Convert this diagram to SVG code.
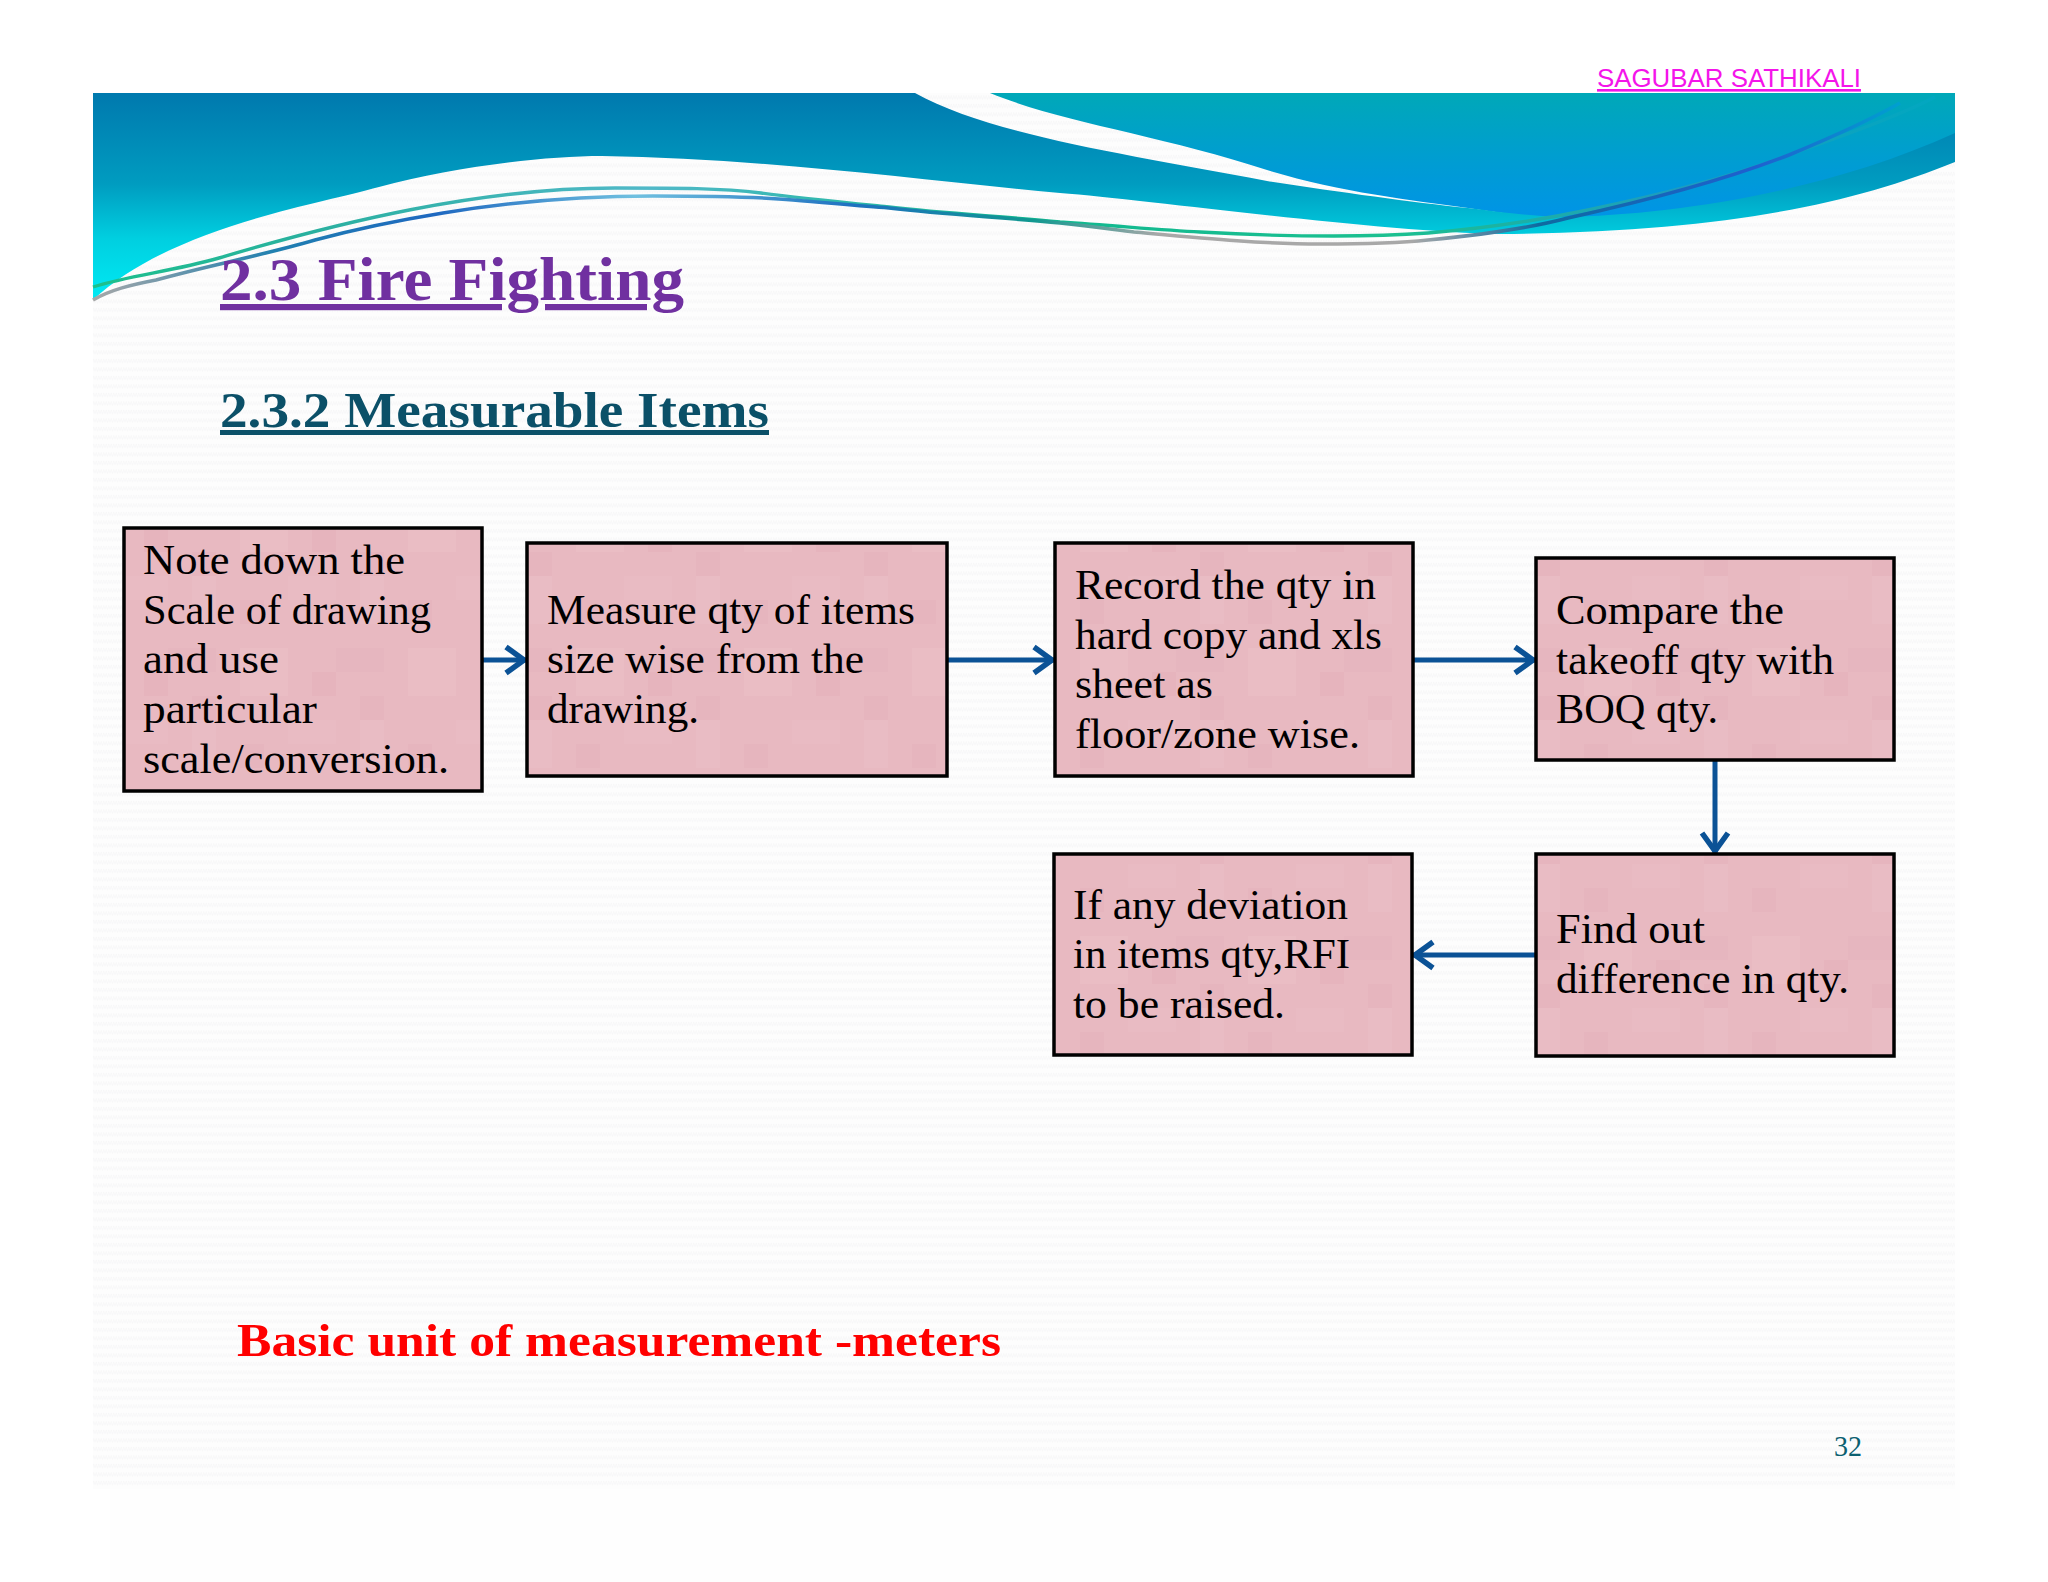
<svg xmlns="http://www.w3.org/2000/svg" width="2048" height="1582" viewBox="0 0 2048 1582">
<style>
.box{fill:url(#mottle);stroke:#000;stroke-width:3.5}
.t{font-family:"Liberation Serif",serif;font-size:42px;fill:#000}
.conn{fill:none;stroke:#0b5296;stroke-width:5;marker-end:url(#head)}
</style>
<defs>
<pattern id="zig" width="5" height="8.5" patternUnits="userSpaceOnUse"><path d="M0,6 L1.25,2 L2.5,6 L3.75,2 L5,6" fill="none" stroke="#f5f5f6" stroke-width="0.7"/></pattern>
<pattern id="mottle" width="168" height="144" patternUnits="userSpaceOnUse">
<rect width="168" height="144" fill="#e8b9c1"/>
<rect x="24" y="0" width="24" height="48" fill="#e9bcc4"/><rect x="72" y="24" width="24" height="24" fill="#e6b5be"/><rect x="120" y="0" width="48" height="24" fill="#e9bbc3"/>
<rect x="0" y="72" width="48" height="24" fill="#e6b6bf"/><rect x="72" y="72" width="48" height="48" fill="#eabdc4"/><rect x="144" y="96" width="24" height="24" fill="#e6b4bd"/><rect x="24" y="120" width="24" height="24" fill="#e6b5be"/>
</pattern>
<linearGradient id="bandA" gradientUnits="userSpaceOnUse" x1="0" y1="93" x2="0" y2="295"><stop offset="0" stop-color="#0079ae"/><stop offset="0.45" stop-color="#009cc0"/><stop offset="0.72" stop-color="#00cfe0"/><stop offset="1" stop-color="#00e8f2"/></linearGradient>
<linearGradient id="bandB" gradientUnits="userSpaceOnUse" x1="0" y1="93" x2="0" y2="216"><stop offset="0" stop-color="#00a8b8"/><stop offset="0.6" stop-color="#009cd4"/><stop offset="1" stop-color="#0094e6"/></linearGradient>
<linearGradient id="sw1" gradientUnits="userSpaceOnUse" x1="93" y1="0" x2="1955" y2="0"><stop offset="0" stop-color="#1cc08c"/><stop offset="0.12" stop-color="#2ab0a0"/><stop offset="0.3" stop-color="#50b8c8"/><stop offset="0.5" stop-color="#10b890"/><stop offset="0.7" stop-color="#1cc090"/><stop offset="0.85" stop-color="#1c9cc0"/><stop offset="1" stop-color="#00a8c0"/></linearGradient>
<linearGradient id="sw2" gradientUnits="userSpaceOnUse" x1="93" y1="0" x2="1900" y2="0"><stop offset="0" stop-color="#a8a8a8"/><stop offset="0.1" stop-color="#2080b0"/><stop offset="0.19" stop-color="#1e68c0"/><stop offset="0.3" stop-color="#70c0e0"/><stop offset="0.42" stop-color="#1e70c0"/><stop offset="0.52" stop-color="#109890"/><stop offset="0.59" stop-color="#a8a8a8"/><stop offset="0.73" stop-color="#a8a8a8"/><stop offset="0.8" stop-color="#0e6aa0"/><stop offset="0.92" stop-color="#1e60d0"/><stop offset="1" stop-color="#00a0d0"/></linearGradient>
<marker id="head" markerUnits="userSpaceOnUse" markerWidth="40" markerHeight="40" refX="30" refY="20" orient="auto" overflow="visible"><path d="M10,7 L28,20 L10,33" fill="none" stroke="#0b5296" stroke-width="5.5"/></marker>
</defs>

<rect width="2048" height="1582" fill="#ffffff"/>
<rect x="110" y="93" width="1850" height="1489" fill="#fefefe"/>
<rect x="93" y="93" width="1862" height="1396" fill="#fdfdfd"/>
<rect x="93" y="93" width="1862" height="1396" fill="url(#zig)"/>

<path fill="url(#bandB)" d="M990,93 C1060,122 1160,135 1267,170 C1340,192 1410,200 1468,208 C1500,213 1530,217 1560,218 L1700,215 L1955,150 L1955,93 Z"/>
<path fill="url(#bandA)" d="M93,93 L915,93 C990,135 1130,155 1267,181 C1340,192 1410,202 1468,208 C1500,212 1530,216 1560,217 C1680,215 1830,190 1955,133 L1955,162 C1850,205 1720,232 1500,234 C1380,232 1150,200 1060,193 C920,180 760,158 602,156 C540,156 450,168 379,187 C310,206 170,228 93,300 Z"/>
<path fill="none" stroke="url(#sw1)" stroke-width="3.4" d="M93,287 C130,275 170,272 219,258 C340,222 480,188 615,188 C680,188 720,188 761,193 C800,198 850,203 889,207 C950,214 1000,216 1060,222 C1120,226 1160,230 1200,232 C1250,235 1290,236 1334,236 C1370,236 1400,235 1428,233 C1490,228 1540,220 1588,210 C1660,195 1740,175 1802,150 C1860,130 1905,113 1935,97"/>
<path fill="none" stroke="url(#sw2)" stroke-width="3.6" d="M93,300 C110,290 130,285 156,280 C210,265 260,256 315,240 C360,228 400,220 443,213 C510,202 580,196 653,196 C700,196 750,196 793,200 C830,203 860,206 889,208 C950,215 1000,217 1060,223 C1090,226 1110,229 1134,232 C1200,238 1260,244 1321,244 C1360,244 1400,243 1428,240 C1480,235 1530,228 1568,218 C1650,200 1730,178 1789,155 C1830,138 1870,120 1900,103"/>

<text x="1597" y="87" font-family="'Liberation Sans',sans-serif" font-size="26" fill="#f414ea" text-decoration="underline" textLength="264" lengthAdjust="spacingAndGlyphs">SAGUBAR SATHIKALI</text>
<text x="220" y="300" font-family="'Liberation Serif',serif" font-weight="bold" font-size="62" fill="#7030a0" text-decoration="underline" textLength="464" lengthAdjust="spacingAndGlyphs">2.3 Fire Fighting</text>
<text x="220" y="427" font-family="'Liberation Serif',serif" font-weight="bold" font-size="50" fill="#0b5068" text-decoration="underline" textLength="549" lengthAdjust="spacingAndGlyphs">2.3.2 Measurable Items</text>

<g id="connectors">
<line class="conn" x1="482" y1="660" x2="526" y2="660"/>
<line class="conn" x1="947" y1="660" x2="1054" y2="660"/>
<line class="conn" x1="1414" y1="660" x2="1535" y2="660"/>
<line class="conn" x1="1720" y1="760" x2="1720" y2="853" transform="translate(-5 0)"/>
<line class="conn" x1="1535" y1="955" x2="1413" y2="955"/>
</g>

<g id="node1"><rect class="box" x="124" y="528" width="358" height="263"/>
<text class="t" x="143" y="574" textLength="262" lengthAdjust="spacingAndGlyphs">Note down the</text>
<text class="t" x="143" y="624" textLength="288" lengthAdjust="spacingAndGlyphs">Scale of drawing</text>
<text class="t" x="143" y="673" textLength="136" lengthAdjust="spacingAndGlyphs">and use</text>
<text class="t" x="143" y="723" textLength="174" lengthAdjust="spacingAndGlyphs">particular</text>
<text class="t" x="143" y="773" textLength="306" lengthAdjust="spacingAndGlyphs">scale/conversion.</text></g>

<g id="node2"><rect class="box" x="527" y="543" width="420" height="233"/>
<text class="t" x="547" y="624" textLength="368" lengthAdjust="spacingAndGlyphs">Measure qty of items</text>
<text class="t" x="547" y="673" textLength="317" lengthAdjust="spacingAndGlyphs">size wise from the</text>
<text class="t" x="547" y="723" textLength="152" lengthAdjust="spacingAndGlyphs">drawing.</text></g>

<g id="node3"><rect class="box" x="1055" y="543" width="358" height="233"/>
<text class="t" x="1075" y="599" textLength="301" lengthAdjust="spacingAndGlyphs">Record the qty in</text>
<text class="t" x="1075" y="649" textLength="307" lengthAdjust="spacingAndGlyphs">hard copy and xls</text>
<text class="t" x="1075" y="698" textLength="138" lengthAdjust="spacingAndGlyphs">sheet as</text>
<text class="t" x="1075" y="748" textLength="285" lengthAdjust="spacingAndGlyphs">floor/zone wise.</text></g>

<g id="node4"><rect class="box" x="1536" y="558" width="358" height="202"/>
<text class="t" x="1556" y="624" textLength="228" lengthAdjust="spacingAndGlyphs">Compare the</text>
<text class="t" x="1556" y="674" textLength="278" lengthAdjust="spacingAndGlyphs">takeoff qty with</text>
<text class="t" x="1556" y="723" textLength="162" lengthAdjust="spacingAndGlyphs">BOQ qty.</text></g>

<g id="node5"><rect class="box" x="1536" y="854" width="358" height="202"/>
<text class="t" x="1556" y="943" textLength="149" lengthAdjust="spacingAndGlyphs">Find out</text>
<text class="t" x="1556" y="993" textLength="293" lengthAdjust="spacingAndGlyphs">difference in qty.</text></g>

<g id="node6"><rect class="box" x="1054" y="854" width="358" height="201"/>
<text class="t" x="1073" y="919" textLength="275" lengthAdjust="spacingAndGlyphs">If any deviation</text>
<text class="t" x="1073" y="968" textLength="277" lengthAdjust="spacingAndGlyphs">in items qty,RFI</text>
<text class="t" x="1073" y="1018" textLength="212" lengthAdjust="spacingAndGlyphs">to be raised.</text></g>

<text x="237" y="1356" font-family="'Liberation Serif',serif" font-weight="bold" font-size="46" fill="#ff0000" textLength="764" lengthAdjust="spacingAndGlyphs">Basic unit of measurement -meters</text>
<text x="1834" y="1456" font-family="'Liberation Serif',serif" font-size="30" fill="#0b6070" textLength="28" lengthAdjust="spacingAndGlyphs">32</text>
</svg>
